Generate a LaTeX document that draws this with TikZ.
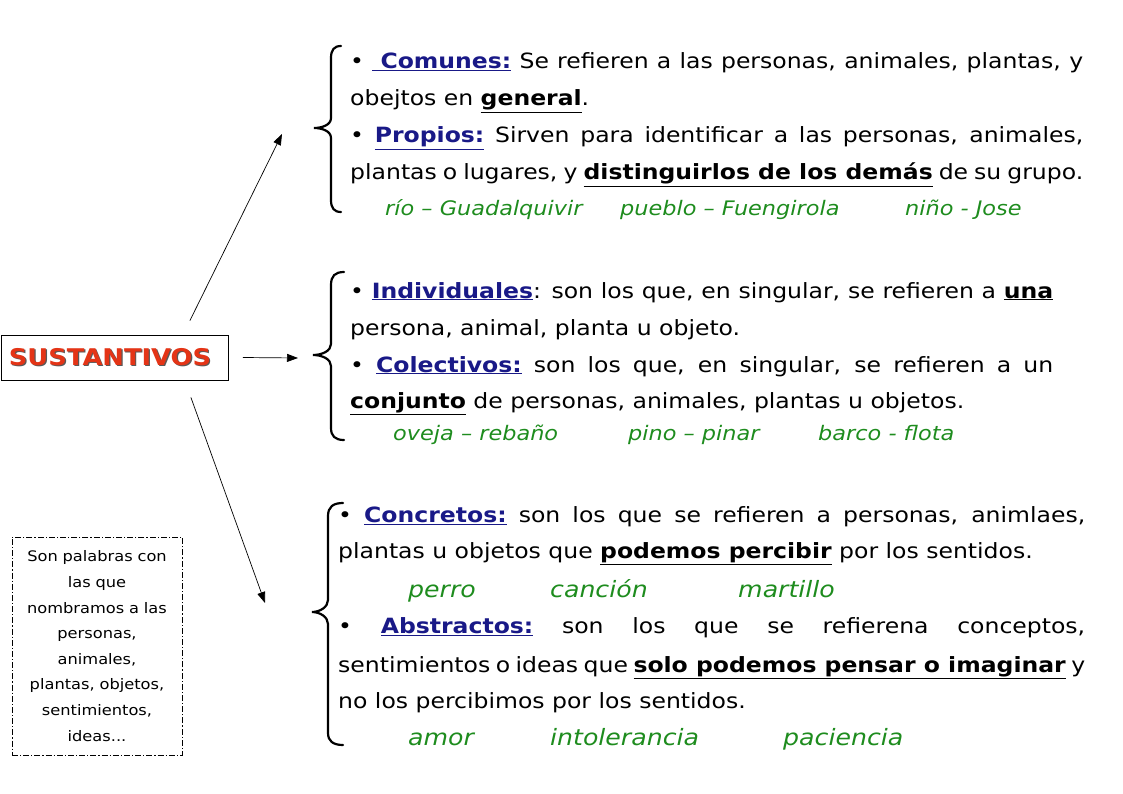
\documentclass[tikz,border=0pt]{standalone}
\usepackage{fontspec}
\setmainfont{DejaVu Sans}[FakeStretch=1.12]
\usepackage{xcolor}
\definecolor{navy}{RGB}{25,25,135}
\definecolor{leaf}{RGB}{30,140,30}
\definecolor{brick}{RGB}{228,52,22}
\usepackage{tikz}
\usetikzlibrary{positioning,arrows.meta,calc}
% underlined words
\newcommand{\hd}[1]{\textcolor{navy}{\underline{\textbf{#1}}}}
\newcommand{\kw}[1]{\underline{\textbf{#1}}}

\begin{document}
\begin{tikzpicture}[x=1pt,y=-1pt,
	txt/.style={anchor=base west,inner sep=0,font=\fontsize{21}{24}\selectfont},
	ej/.style={anchor=base west,inner sep=0,text=leaf,font=\fontsize{20}{24}\selectfont\itshape},
	ejbig/.style={ej,font=\fontsize{22.5}{26}\selectfont\itshape},
	brc/.style={line width=2.2pt,line cap=round},
	arr/.style={-{Triangle[length=11pt,width=8pt]},line width=0.7pt}]
	\useasboundingbox (0,0) rectangle (1123,794);
	
	% main box
	\node[draw,line width=0.8pt,minimum width=227,minimum height=45,inner sep=0,
	font=\fontsize{23}{26}\selectfont\bfseries,text=brick] (sust) at (115,357.5)
	{\rlap{\kern1.2pt\raisebox{-1.2pt}{\textcolor{black!65}{SUSTANTIVOS}}}SUSTANTIVOS\kern10pt};
	
	% definition box
	\node[draw,line width=0.6pt,dash pattern=on 6pt off 2pt on 1.2pt off 2pt,
	minimum width=170,minimum height=218,text width=166,align=center,inner sep=0,
	font=\fontsize{14.5}{25.6}\selectfont] (defi) at (97,646)
	{Son palabras con\\ las que\\ nombramos a las\\ personas,\\ animales,\\ plantas, objetos,\\ sentimientos,\\ ideas...};
	
	% arrows
	\coordinate (tip1) at (282,134);
	\coordinate (tip2) at (298,358);
	\coordinate (tip3) at (265,603);
	\draw[arr] ($(sust.north east)+(-39,-14)$) -- (tip1);
	\draw[arr] ($(sust.east)+(14,0)$) -- (tip2);
	\draw[arr] ($(sust.south east)+(-38,17)$) -- (tip3);
	
	% braces
	\draw[brc] (341,46) .. controls (334,46) and (331,50) .. (331,58) -- (331,118)
	.. controls (331,125) and (322,128) .. (314,128) .. controls (322,128) and (331,131) .. (331,138)
	-- (331,200) .. controls (331,208) and (334,212) .. (341,212);
	\draw[brc] (344,272) .. controls (335,272) and (331,276) .. (331,285) -- (331,344)
	.. controls (331,351) and (322,355) .. (313,355) .. controls (322,355) and (331,359) .. (331,366)
	-- (331,428) .. controls (331,436) and (335,440) .. (344,440);
	\draw[brc] (343,503) .. controls (333,503) and (328,507) .. (328,516) -- (328,600)
	.. controls (328,607) and (320,612) .. (312,612) .. controls (320,612) and (328,617) .. (328,624)
	-- (328,733) .. controls (328,741) and (333,745) .. (343,745);
	
	% comunes / propios
	\node[txt] (c1) at (350,69) {\makebox[733pt][s]{• \hd{\ Comunes:} Se refieren a las personas, animales, plantas, y}};
	\node[txt] (c2) at (350,106) {obejtos en \kw{general}.};
	\node[txt] (c3) at (350,143) {\makebox[733pt][s]{• \hd{Propios:} Sirven para identificar a las personas, animales,}};
	\node[txt] (c4) at (350,180) {\makebox[733pt][s]{plantas o lugares, y \kw{distinguirlos de los demás} de su grupo.}};
	\node[ej] (e1) at (385,215) {río – Guadalquivir};
	\node[ej] (e2) at (620,215) {pueblo – Fuengirola};
	\node[ej] (e3) at (905,215) {niño - Jose};
	
	% individuales / colectivos
	\node[txt] (i1) at (350,298) {\makebox[703pt][s]{• \hd{Individuales}: son los que, en singular, se refieren a \kw{una}}};
	\node[txt] (i2) at (350,335) {persona, animal, planta u objeto.};
	\node[txt] (i3) at (350,372) {\makebox[703pt][s]{• \hd{Colectivos:} son los que, en singular, se refieren a un}};
	\node[txt] (i4) at (350,408) {\kw{conjunto} de personas, animales, plantas u objetos.};
	\node[ej] (e4) at (393,440) {oveja – rebaño};
	\node[ej] (e5) at (628,440) {pino – pinar};
	\node[ej] (e6) at (818,440) {barco - flota};
	
	% concretos / abstractos
	\node[txt] (k1) at (338,522) {\makebox[747pt][s]{• \hd{Concretos:} son los que se refieren a personas, animlaes,}};
	\node[txt] (k2) at (338,558) {plantas u objetos que \kw{podemos percibir} por los sentidos.};
	\node[ejbig] (e7) at (408,597) {perro};
	\node[ejbig] (e8) at (550,597) {canción};
	\node[ejbig] (e9) at (738,597) {martillo};
	\node[txt] (k3) at (338,633) {\makebox[747pt][s]{• \hd{Abstractos:} son los que se refierena conceptos,}};
	\node[txt] (k4) at (338,672) {\makebox[747pt][s]{sentimientos o ideas que \kw{solo podemos pensar o imaginar} y}};
	\node[txt] (k5) at (338,708) {no los percibimos por los sentidos.};
	\node[ejbig] (e10) at (408,745) {amor};
	\node[ejbig] (e11) at (550,745) {intolerancia};
	\node[ejbig] (e12) at (783,745) {paciencia};
\end{tikzpicture}
\end{document}
